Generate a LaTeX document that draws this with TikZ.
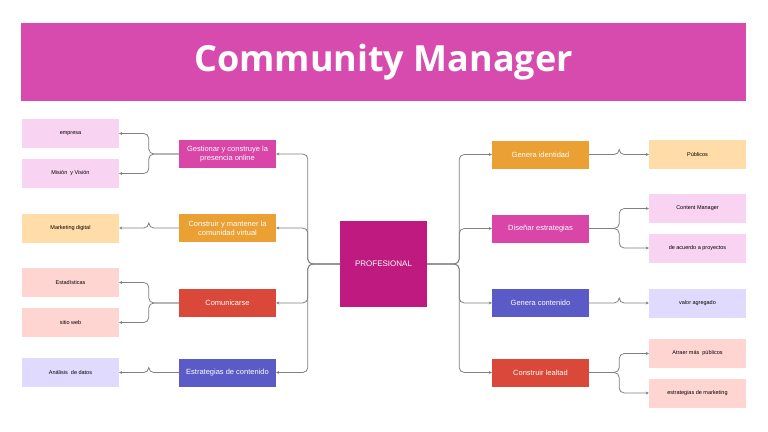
\documentclass[tikz,border=0pt]{standalone}
\usepackage{fontspec}
\setmainfont{Liberation Sans}
\newfontfamily\titlefont{Open Sans}
\usetikzlibrary{arrows.meta}
\definecolor{cmpink}{HTML}{D84BAE}
\definecolor{cmcenter}{HTML}{BF1A7F}
\definecolor{cmmag}{HTML}{D946A8}
\definecolor{cmorange}{HTML}{EBA034}
\definecolor{cmred}{HTML}{D94838}
\definecolor{cmpurple}{HTML}{5B5BC8}
\definecolor{lpink}{HTML}{F9D3F2}
\definecolor{lorange}{HTML}{FFDCA8}
\definecolor{lred}{HTML}{FFD5D2}
\definecolor{lpurple}{HTML}{E0DBFE}
\tikzset{
  topic/.style={minimum width=97pt, minimum height=28pt, inner sep=1pt, text=white, font=\fontsize{7.5}{9}\selectfont, align=center},
  leaf/.style={minimum width=97pt, minimum height=29pt, inner sep=1pt, font=\fontsize{5.5}{7}\selectfont, align=center},
  link/.style={draw=gray, line width=0.8pt, rounded corners=5pt, -{Stealth[length=3pt,width=3pt]}}
}
\begin{document}
\begin{tikzpicture}[x=1pt,y=-1pt]
\useasboundingbox (0,0) rectangle (768,431);
% title
\node[fill=cmpink, minimum width=725pt, minimum height=78pt, text=white, font=\titlefont\bfseries\fontsize{36}{40}\selectfont] (title) at (383.5,62) {Community Manager};
% center
\node[fill=cmcenter, minimum width=87pt, minimum height=86pt, text=white, font=\fontsize{8}{10}\selectfont] (prof) at (383.5,264) {PROFESIONAL};
% left topics
\node[topic, fill=cmmag] (gest) at (227.5,154) {Gestionar y construye la\\presencia online};
\node[topic, fill=cmorange] (cons) at (227.5,228) {Construir y mantener la\\comunidad virtual};
\node[topic, fill=cmred] (comu) at (227.5,303) {Comunicarse};
\node[topic, fill=cmpurple] (estr) at (227.5,372.5) {Estrategias de contenido};
% left leaves
\node[leaf, fill=lpink] (empr) at (70.5,133.5) {empresa};
\node[leaf, fill=lpink] (misi) at (70.5,173.5) {Misión\ \ y Visión};
\node[leaf, fill=lorange] (mark) at (70.5,228) {Marketing digital};
\node[leaf, fill=lred] (esta) at (70.5,282.5) {Estadísticas};
\node[leaf, fill=lred] (siti) at (70.5,322.5) {sitio web};
\node[leaf, fill=lpurple] (anal) at (70.5,372.5) {Análisis\ \ de datos};
% right topics
\node[topic, fill=cmorange] (iden) at (540.5,154.5) {Genera identidad};
\node[topic, fill=cmmag] (dise) at (540.5,228.5) {Diseñar estrategias};
\node[topic, fill=cmpurple] (cont) at (540.5,303) {Genera contenido};
\node[topic, fill=cmred] (leal) at (540.5,372.5) {Construir lealtad};
% right leaves
\node[leaf, fill=lorange] (publ) at (697.5,154.5) {Públicos};
\node[leaf, fill=lpink] (cman) at (697.5,208.5) {Content Manager};
\node[leaf, fill=lpink] (acue) at (697.5,248) {de acuerdo a proyectos};
\node[leaf, fill=lpurple] (valo) at (697.5,303) {valor agregado};
\node[leaf, fill=lred] (atra) at (697.5,353.5) {Atraer más\ \ públicos};
\node[leaf, fill=lred] (emar) at (697.5,393) {estrategias de marketing};
% center to topics
\foreach \t in {gest,cons,comu,estr}
  \draw[link] (prof.west) -- ++(-32,0) |- (\t.east);
\foreach \t in {iden,dise,cont,leal}
  \draw[link] (prof.east) -- ++(32,0) |- (\t.west);
% topics to leaves
\foreach \t/\l in {gest/empr,gest/misi,cons/mark,comu/esta,comu/siti,estr/anal}
  \draw[link] (\t.west) -- ++(-30,0) |- (\l.east);
\foreach \t/\l in {iden/publ,dise/cman,dise/acue,cont/valo,leal/atra,leal/emar}
  \draw[link] (\t.east) -- ++(30,0) |- (\l.west);
\end{tikzpicture}
\end{document}
